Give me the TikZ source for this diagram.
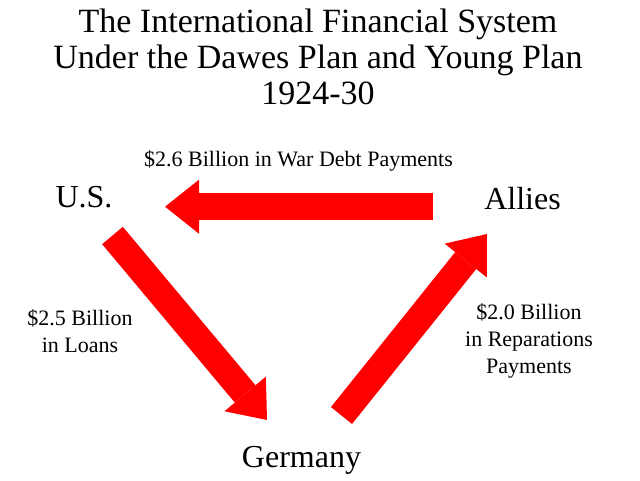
\documentclass[tikz,border=0pt]{standalone}
\usepackage{fontspec}
\setmainfont{Liberation Serif}
\usetikzlibrary{arrows.meta}
\tikzset{
  place/.style={inner sep=0pt, anchor=base, font=\fontsize{32}{32}\selectfont},
  amount/.style={inner sep=0pt, anchor=base, align=center, font=\fontsize{22}{27}\selectfont},
  flow/.style={draw=red, line width=27pt, -{Triangle[width=54pt,length=34pt,line width=0pt]}}
}
\begin{document}
\begin{tikzpicture}[x=1pt,y=-1pt]
        \useasboundingbox (0,0) rectangle (640,480);

        % base of a node with several lines is its last line
        \node[inner sep=0pt, anchor=base, align=center, font=\fontsize{34}{36}\selectfont] (title) at(318,104){The International Financial System\\Under the Dawes Plan and Young Plan\\1924-30};

        \node[place] (us) at(84,207){U.S.};
        \node[place] (allies) at(522.5,209){Allies};
        \node[place] (germany) at(301.5,467){Germany};

        \node[amount] (debt) at(298.5,166){\$2.6 Billion in War Debt Payments};
        \node[amount] (loans) at(80,352){\$2.5 Billion\\in Loans};
        \node[amount] (reparations) at(529,373){\$2.0 Billion\\in Reparations\\Payments};

        \coordinate (allies-out) at(433,206.7);
        \coordinate (us-in) at(165,206.7);
        \coordinate (us-out) at(112.5,235.5);
        \coordinate (germany-in) at(267,420);
        \coordinate (germany-out) at(341.5,415.5);
        \coordinate (allies-in) at(487,234);

        \draw [flow] (allies-out) -- (us-in);
        \draw [flow] (us-out) -- (germany-in);
        \draw [flow] (germany-out) -- (allies-in);

      \end{tikzpicture}
\end{document}
